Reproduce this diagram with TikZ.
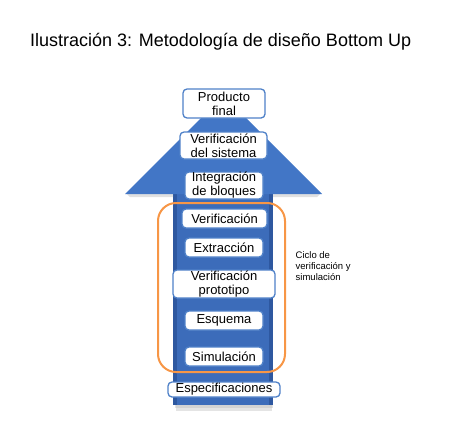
\documentclass[tikz,border=0pt]{standalone}
\usepackage{fontspec}
\setmainfont{Liberation Sans}
\definecolor{arrowblue}{RGB}{66,118,198}
\definecolor{shaftblue}{RGB}{60,108,186}
\definecolor{arrowdark}{RGB}{46,88,160}
\definecolor{boxline}{RGB}{79,129,200}
\definecolor{orangeline}{RGB}{247,150,70}
\begin{document}
\begin{tikzpicture}[x=1pt,y=-1pt,
  box/.style={draw=boxline, line width=1.3pt, fill=white, rounded corners=4pt, inner sep=0pt, align=center, font=\fontsize{13}{14}\selectfont},
  cyclebox/.style={draw=orangeline, line width=2pt, rounded corners=18pt, inner sep=0pt},
  sidelabel/.style={align=left, inner sep=0pt, font=\fontsize{9.5}{11}\selectfont}
]
\useasboundingbox (0,0) rectangle (476,447);
\node[anchor=base west, inner sep=0pt, font=\fontsize{18}{22}\selectfont] (title) at (30,46) {Ilustración 3: Metodología de diseño Bottom Up};

% shadow
\fill[black!30, opacity=0.35] (176,405) rectangle (272,411);
\fill[black!30, opacity=0.35] (175,405) rectangle (273,408);
% arrow shaft
\fill[shaftblue] (173,194) rectangle (273,405);
\fill[arrowdark] (173,194) rectangle (177,405);
\fill[arrowdark] (269,194) rectangle (273,405);
% arrow head
\fill[black!30, opacity=0.4] (127,194) -- (173,194) -- (173,197) -- (130,197) -- cycle;
\fill[black!30, opacity=0.4] (273,194) -- (320,194) -- (317,197) -- (273,197) -- cycle;
\fill[arrowblue] (125,194) -- (223.5,95.5) -- (322,194) -- cycle;

% cycle frame
\node[cyclebox, minimum width=127pt, minimum height=169pt] (cyc) at (221.5,287.5) {};

% boxes
\node[box, minimum width=82pt, minimum height=29pt] (prod) at (224,103.5) {Producto\\final};
\node[box, minimum width=87pt, minimum height=27pt] (versis) at (223.5,145.5) {Verificación\\del sistema};
\node[box, minimum width=78pt, minimum height=27pt] (integ) at (224,185.5) {Integración\\de bloques};
\node[box, minimum width=85pt, minimum height=19pt] (verif) at (224.5,218.5) {Verificación};
\node[box, minimum width=78pt, minimum height=19pt] (extr) at (224,247.5) {Extracción};
\node[box, minimum width=102pt, minimum height=28pt] (proto) at (224,284) {Verificación\\prototipo};
\node[box, minimum width=78pt, minimum height=19pt] (esq) at (224,320.5) {Esquema};
\node[box, minimum width=78pt, minimum height=19pt] (sim) at (224,356.5) {Simulación};
\node[box, minimum width=112pt, minimum height=15pt] (espec) at (224,389.5) {Especificaciones};

\node[sidelabel, anchor=north west] (lbl) at (295.5,251) {Ciclo de\\verificación y\\simulación};
\end{tikzpicture}
\end{document}
